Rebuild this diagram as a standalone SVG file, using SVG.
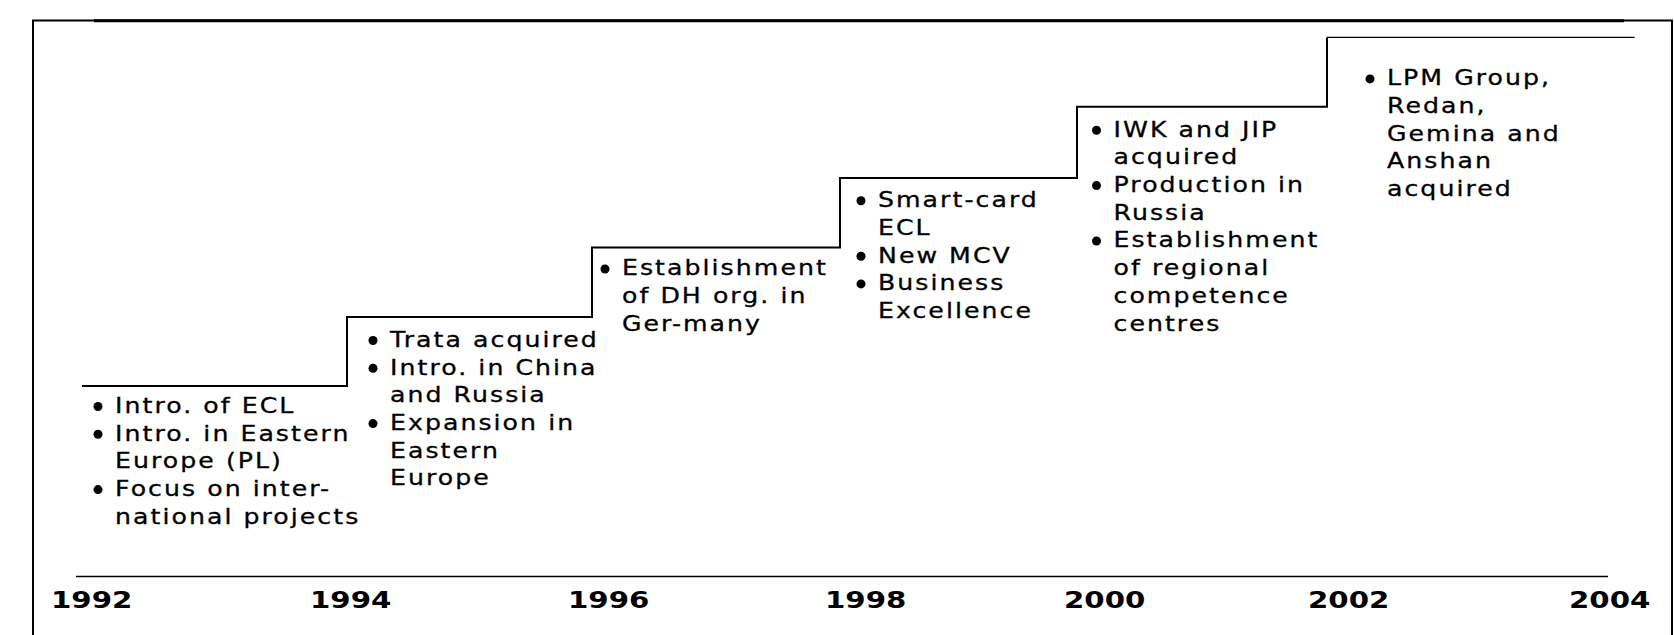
<svg xmlns="http://www.w3.org/2000/svg" width="1674" height="635" viewBox="0 0 1674 635">
<style>
.t{font-family:"DejaVu Sans","Liberation Sans",sans-serif;font-size:21px;letter-spacing:1.7px;fill:#000;stroke:#000;stroke-width:0.3}
.y{font-family:"DejaVu Sans","Liberation Sans",sans-serif;font-size:22.5px;font-weight:bold;fill:#000}
.ln{fill:none;stroke:#000}
.b{fill:#000}
</style>
<rect width="1674" height="635" fill="#fff"/>
<g id="frame">
<rect class="ln" x="33" y="20.5" width="1639" height="640" stroke-width="2"/>
<line class="ln" x1="94" y1="20.7" x2="1624" y2="20.7" stroke-width="3"/>
</g>
<g id="connectors">
<polyline class="ln" stroke-width="2" points="82,386 347,386 347,317 592,317 592,247.5 840,247.5 840,178 1077,178 1077,106.7 1327,106.7 1327,37.4"/>
<line class="ln" x1="1327" y1="37.4" x2="1634.6" y2="37.4" stroke-width="1.4"/>
<line class="ln" x1="76" y1="576.5" x2="1608" y2="576.5" stroke-width="1.3"/>
</g>
<g id="node-1992">
<circle class="b" cx="98" cy="406.5" r="4.5"/>
<circle class="b" cx="98" cy="434.2" r="4.5"/>
<circle class="b" cx="98" cy="489.6" r="4.5"/>
<text class="t" transform="translate(115,0) scale(1.2,1)"><tspan x="0" y="413">Intro. of ECL</tspan><tspan x="0" y="440.7">Intro. in Eastern</tspan><tspan x="0" y="468.4">Europe (PL)</tspan><tspan x="0" y="496.1">Focus on inter-</tspan><tspan x="0" y="523.8">national projects</tspan></text>
</g>
<g id="node-1994">
<circle class="b" cx="373" cy="340.5" r="4.5"/>
<circle class="b" cx="373" cy="368.2" r="4.5"/>
<circle class="b" cx="373" cy="423.6" r="4.5"/>
<text class="t" transform="translate(390,0) scale(1.2,1)"><tspan x="0" y="347">Trata acquired</tspan><tspan x="0" y="374.7">Intro. in China</tspan><tspan x="0" y="402.4">and Russia</tspan><tspan x="0" y="430.1">Expansion in</tspan><tspan x="0" y="457.8">Eastern</tspan><tspan x="0" y="485.5">Europe</tspan></text>
</g>
<g id="node-1996">
<circle class="b" cx="605" cy="269" r="4.5"/>
<text class="t" transform="translate(622,0) scale(1.2,1)"><tspan x="0" y="275.5">Establishment</tspan><tspan x="0" y="303.2">of DH org. in</tspan><tspan x="0" y="330.9">Ger-many</tspan></text>
</g>
<g id="node-1998">
<circle class="b" cx="861" cy="200.8" r="4.5"/>
<circle class="b" cx="861" cy="256.2" r="4.5"/>
<circle class="b" cx="861" cy="283.9" r="4.5"/>
<text class="t" transform="translate(878,0) scale(1.2,1)"><tspan x="0" y="207.3">Smart-card</tspan><tspan x="0" y="235">ECL</tspan><tspan x="0" y="262.7">New MCV</tspan><tspan x="0" y="290.4">Business</tspan><tspan x="0" y="318.1">Excellence</tspan></text>
</g>
<g id="node-2000">
<circle class="b" cx="1096.5" cy="130.2" r="4.5"/>
<circle class="b" cx="1096.5" cy="185.6" r="4.5"/>
<circle class="b" cx="1096.5" cy="241" r="4.5"/>
<text class="t" transform="translate(1113.5,0) scale(1.2,1)"><tspan x="0" y="136.7">IWK and JIP</tspan><tspan x="0" y="164.4">acquired</tspan><tspan x="0" y="192.1">Production in</tspan><tspan x="0" y="219.8">Russia</tspan><tspan x="0" y="247.5">Establishment</tspan><tspan x="0" y="275.2">of regional</tspan><tspan x="0" y="302.9">competence</tspan><tspan x="0" y="330.6">centres</tspan></text>
</g>
<g id="node-2002">
<circle class="b" cx="1370" cy="78.9" r="4.5"/>
<text class="t" transform="translate(1387,0) scale(1.2,1)"><tspan x="0" y="85.4">LPM Group,</tspan><tspan x="0" y="113.1">Redan,</tspan><tspan x="0" y="140.8">Gemina and</tspan><tspan x="0" y="168.5">Anshan</tspan><tspan x="0" y="196.2">acquired</tspan></text>
</g>
<g id="years">
<text class="y" transform="translate(51,608) scale(1.3,1)">1992</text>
<text class="y" transform="translate(310,608) scale(1.3,1)">1994</text>
<text class="y" transform="translate(568,608) scale(1.3,1)">1996</text>
<text class="y" transform="translate(825,608) scale(1.3,1)">1998</text>
<text class="y" transform="translate(1064,608) scale(1.3,1)">2000</text>
<text class="y" transform="translate(1308,608) scale(1.3,1)">2002</text>
<text class="y" transform="translate(1569,608) scale(1.3,1)">2004</text>
</g>
</svg>
